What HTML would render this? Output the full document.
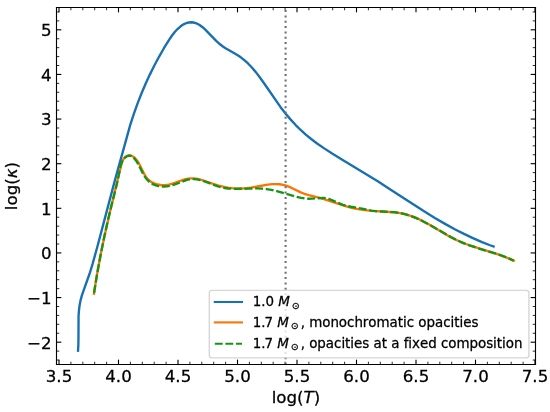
<!DOCTYPE html>
<html><head><meta charset="utf-8"><title>plot</title>
<style>html,body{margin:0;padding:0;background:#fff;}svg{display:block;}
text{stroke:#000;stroke-width:0.2px;}</style></head>
<body>
<svg width="550" height="412" viewBox="0 0 396 296.64" version="1.1">
 <defs>
  <style type="text/css">*{stroke-linejoin: round; stroke-linecap: butt}</style>
 </defs>
 <g id="figure_1">
  <g id="patch_1">
   <path d="M 0 296.64 
L 396 296.64 
L 396 0 
L 0 0 
z
" style="fill: #ffffff"/>
  </g>
  <g id="axes_1">
   <g id="patch_2">
    <path d="M 40.68 262.44 
L 385.56 262.44 
L 385.56 5.4 
L 40.68 5.4 
z
" style="fill: #ffffff"/>
   </g>
   <g id="matplotlib.axis_1">
    <g id="xtick_1">
     <g id="line2d_1">
      <g>
       <path transform="translate(42.48 262.44)" d="M 0 0 
L 0 -3.5 
" style="stroke: #000000; stroke-width: 0.8"/>
      </g>
     </g>
     <g id="line2d_2">
      <g>
       <path transform="translate(42.48 5.4)" d="M 0 0 
L 0 3.5 
" style="stroke: #000000; stroke-width: 0.8"/>
      </g>
     </g>
     <g id="text_1">
      <text style="font-size: 12px; font-family: 'DejaVu Sans', 'Bitstream Vera Sans', 'Computer Modern Sans Serif', 'Lucida Grande', 'Verdana', 'Geneva', 'Lucid', 'Arial', 'Helvetica', 'Avant Garde', sans-serif; text-anchor: middle" x="42.48" y="275.058125" transform="rotate(-0 42.48 275.058125)">3.5</text>
     </g>
    </g>
    <g id="xtick_2">
     <g id="line2d_3">
      <g>
       <path transform="translate(85.32 262.44)" d="M 0 0 
L 0 -3.5 
" style="stroke: #000000; stroke-width: 0.8"/>
      </g>
     </g>
     <g id="line2d_4">
      <g>
       <path transform="translate(85.32 5.4)" d="M 0 0 
L 0 3.5 
" style="stroke: #000000; stroke-width: 0.8"/>
      </g>
     </g>
     <g id="text_2">
      <text style="font-size: 12px; font-family: 'DejaVu Sans', 'Bitstream Vera Sans', 'Computer Modern Sans Serif', 'Lucida Grande', 'Verdana', 'Geneva', 'Lucid', 'Arial', 'Helvetica', 'Avant Garde', sans-serif; text-anchor: middle" x="85.32" y="275.058125" transform="rotate(-0 85.32 275.058125)">4.0</text>
     </g>
    </g>
    <g id="xtick_3">
     <g id="line2d_5">
      <g>
       <path transform="translate(128.16 262.44)" d="M 0 0 
L 0 -3.5 
" style="stroke: #000000; stroke-width: 0.8"/>
      </g>
     </g>
     <g id="line2d_6">
      <g>
       <path transform="translate(128.16 5.4)" d="M 0 0 
L 0 3.5 
" style="stroke: #000000; stroke-width: 0.8"/>
      </g>
     </g>
     <g id="text_3">
      <text style="font-size: 12px; font-family: 'DejaVu Sans', 'Bitstream Vera Sans', 'Computer Modern Sans Serif', 'Lucida Grande', 'Verdana', 'Geneva', 'Lucid', 'Arial', 'Helvetica', 'Avant Garde', sans-serif; text-anchor: middle" x="128.16" y="275.058125" transform="rotate(-0 128.16 275.058125)">4.5</text>
     </g>
    </g>
    <g id="xtick_4">
     <g id="line2d_7">
      <g>
       <path transform="translate(171 262.44)" d="M 0 0 
L 0 -3.5 
" style="stroke: #000000; stroke-width: 0.8"/>
      </g>
     </g>
     <g id="line2d_8">
      <g>
       <path transform="translate(171 5.4)" d="M 0 0 
L 0 3.5 
" style="stroke: #000000; stroke-width: 0.8"/>
      </g>
     </g>
     <g id="text_4">
      <text style="font-size: 12px; font-family: 'DejaVu Sans', 'Bitstream Vera Sans', 'Computer Modern Sans Serif', 'Lucida Grande', 'Verdana', 'Geneva', 'Lucid', 'Arial', 'Helvetica', 'Avant Garde', sans-serif; text-anchor: middle" x="171" y="275.058125" transform="rotate(-0 171 275.058125)">5.0</text>
     </g>
    </g>
    <g id="xtick_5">
     <g id="line2d_9">
      <g>
       <path transform="translate(213.84 262.44)" d="M 0 0 
L 0 -3.5 
" style="stroke: #000000; stroke-width: 0.8"/>
      </g>
     </g>
     <g id="line2d_10">
      <g>
       <path transform="translate(213.84 5.4)" d="M 0 0 
L 0 3.5 
" style="stroke: #000000; stroke-width: 0.8"/>
      </g>
     </g>
     <g id="text_5">
      <text style="font-size: 12px; font-family: 'DejaVu Sans', 'Bitstream Vera Sans', 'Computer Modern Sans Serif', 'Lucida Grande', 'Verdana', 'Geneva', 'Lucid', 'Arial', 'Helvetica', 'Avant Garde', sans-serif; text-anchor: middle" x="213.84" y="275.058125" transform="rotate(-0 213.84 275.058125)">5.5</text>
     </g>
    </g>
    <g id="xtick_6">
     <g id="line2d_11">
      <g>
       <path transform="translate(256.68 262.44)" d="M 0 0 
L 0 -3.5 
" style="stroke: #000000; stroke-width: 0.8"/>
      </g>
     </g>
     <g id="line2d_12">
      <g>
       <path transform="translate(256.68 5.4)" d="M 0 0 
L 0 3.5 
" style="stroke: #000000; stroke-width: 0.8"/>
      </g>
     </g>
     <g id="text_6">
      <text style="font-size: 12px; font-family: 'DejaVu Sans', 'Bitstream Vera Sans', 'Computer Modern Sans Serif', 'Lucida Grande', 'Verdana', 'Geneva', 'Lucid', 'Arial', 'Helvetica', 'Avant Garde', sans-serif; text-anchor: middle" x="256.68" y="275.058125" transform="rotate(-0 256.68 275.058125)">6.0</text>
     </g>
    </g>
    <g id="xtick_7">
     <g id="line2d_13">
      <g>
       <path transform="translate(299.52 262.44)" d="M 0 0 
L 0 -3.5 
" style="stroke: #000000; stroke-width: 0.8"/>
      </g>
     </g>
     <g id="line2d_14">
      <g>
       <path transform="translate(299.52 5.4)" d="M 0 0 
L 0 3.5 
" style="stroke: #000000; stroke-width: 0.8"/>
      </g>
     </g>
     <g id="text_7">
      <text style="font-size: 12px; font-family: 'DejaVu Sans', 'Bitstream Vera Sans', 'Computer Modern Sans Serif', 'Lucida Grande', 'Verdana', 'Geneva', 'Lucid', 'Arial', 'Helvetica', 'Avant Garde', sans-serif; text-anchor: middle" x="299.52" y="275.058125" transform="rotate(-0 299.52 275.058125)">6.5</text>
     </g>
    </g>
    <g id="xtick_8">
     <g id="line2d_15">
      <g>
       <path transform="translate(342.36 262.44)" d="M 0 0 
L 0 -3.5 
" style="stroke: #000000; stroke-width: 0.8"/>
      </g>
     </g>
     <g id="line2d_16">
      <g>
       <path transform="translate(342.36 5.4)" d="M 0 0 
L 0 3.5 
" style="stroke: #000000; stroke-width: 0.8"/>
      </g>
     </g>
     <g id="text_8">
      <text style="font-size: 12px; font-family: 'DejaVu Sans', 'Bitstream Vera Sans', 'Computer Modern Sans Serif', 'Lucida Grande', 'Verdana', 'Geneva', 'Lucid', 'Arial', 'Helvetica', 'Avant Garde', sans-serif; text-anchor: middle" x="342.36" y="275.058125" transform="rotate(-0 342.36 275.058125)">7.0</text>
     </g>
    </g>
    <g id="xtick_9">
     <g id="line2d_17">
      <g>
       <path transform="translate(385.2 262.44)" d="M 0 0 
L 0 -3.5 
" style="stroke: #000000; stroke-width: 0.8"/>
      </g>
     </g>
     <g id="line2d_18">
      <g>
       <path transform="translate(385.2 5.4)" d="M 0 0 
L 0 3.5 
" style="stroke: #000000; stroke-width: 0.8"/>
      </g>
     </g>
     <g id="text_9">
      <text style="font-size: 12px; font-family: 'DejaVu Sans', 'Bitstream Vera Sans', 'Computer Modern Sans Serif', 'Lucida Grande', 'Verdana', 'Geneva', 'Lucid', 'Arial', 'Helvetica', 'Avant Garde', sans-serif; text-anchor: middle" x="385.2" y="275.058125" transform="rotate(-0 385.2 275.058125)">7.5</text>
     </g>
    </g>
    <g id="xtick_10">
     <g id="line2d_19">
      <g>
       <path transform="translate(51.048 262.44)" d="M 0 0 
L 0 -2 
" style="stroke: #000000; stroke-width: 0.6"/>
      </g>
     </g>
     <g id="line2d_20">
      <g>
       <path transform="translate(51.048 5.4)" d="M 0 0 
L 0 2 
" style="stroke: #000000; stroke-width: 0.6"/>
      </g>
     </g>
    </g>
    <g id="xtick_11">
     <g id="line2d_21">
      <g>
       <path transform="translate(59.616 262.44)" d="M 0 0 
L 0 -2 
" style="stroke: #000000; stroke-width: 0.6"/>
      </g>
     </g>
     <g id="line2d_22">
      <g>
       <path transform="translate(59.616 5.4)" d="M 0 0 
L 0 2 
" style="stroke: #000000; stroke-width: 0.6"/>
      </g>
     </g>
    </g>
    <g id="xtick_12">
     <g id="line2d_23">
      <g>
       <path transform="translate(68.184 262.44)" d="M 0 0 
L 0 -2 
" style="stroke: #000000; stroke-width: 0.6"/>
      </g>
     </g>
     <g id="line2d_24">
      <g>
       <path transform="translate(68.184 5.4)" d="M 0 0 
L 0 2 
" style="stroke: #000000; stroke-width: 0.6"/>
      </g>
     </g>
    </g>
    <g id="xtick_13">
     <g id="line2d_25">
      <g>
       <path transform="translate(76.752 262.44)" d="M 0 0 
L 0 -2 
" style="stroke: #000000; stroke-width: 0.6"/>
      </g>
     </g>
     <g id="line2d_26">
      <g>
       <path transform="translate(76.752 5.4)" d="M 0 0 
L 0 2 
" style="stroke: #000000; stroke-width: 0.6"/>
      </g>
     </g>
    </g>
    <g id="xtick_14">
     <g id="line2d_27">
      <g>
       <path transform="translate(93.888 262.44)" d="M 0 0 
L 0 -2 
" style="stroke: #000000; stroke-width: 0.6"/>
      </g>
     </g>
     <g id="line2d_28">
      <g>
       <path transform="translate(93.888 5.4)" d="M 0 0 
L 0 2 
" style="stroke: #000000; stroke-width: 0.6"/>
      </g>
     </g>
    </g>
    <g id="xtick_15">
     <g id="line2d_29">
      <g>
       <path transform="translate(102.456 262.44)" d="M 0 0 
L 0 -2 
" style="stroke: #000000; stroke-width: 0.6"/>
      </g>
     </g>
     <g id="line2d_30">
      <g>
       <path transform="translate(102.456 5.4)" d="M 0 0 
L 0 2 
" style="stroke: #000000; stroke-width: 0.6"/>
      </g>
     </g>
    </g>
    <g id="xtick_16">
     <g id="line2d_31">
      <g>
       <path transform="translate(111.024 262.44)" d="M 0 0 
L 0 -2 
" style="stroke: #000000; stroke-width: 0.6"/>
      </g>
     </g>
     <g id="line2d_32">
      <g>
       <path transform="translate(111.024 5.4)" d="M 0 0 
L 0 2 
" style="stroke: #000000; stroke-width: 0.6"/>
      </g>
     </g>
    </g>
    <g id="xtick_17">
     <g id="line2d_33">
      <g>
       <path transform="translate(119.592 262.44)" d="M 0 0 
L 0 -2 
" style="stroke: #000000; stroke-width: 0.6"/>
      </g>
     </g>
     <g id="line2d_34">
      <g>
       <path transform="translate(119.592 5.4)" d="M 0 0 
L 0 2 
" style="stroke: #000000; stroke-width: 0.6"/>
      </g>
     </g>
    </g>
    <g id="xtick_18">
     <g id="line2d_35">
      <g>
       <path transform="translate(136.728 262.44)" d="M 0 0 
L 0 -2 
" style="stroke: #000000; stroke-width: 0.6"/>
      </g>
     </g>
     <g id="line2d_36">
      <g>
       <path transform="translate(136.728 5.4)" d="M 0 0 
L 0 2 
" style="stroke: #000000; stroke-width: 0.6"/>
      </g>
     </g>
    </g>
    <g id="xtick_19">
     <g id="line2d_37">
      <g>
       <path transform="translate(145.296 262.44)" d="M 0 0 
L 0 -2 
" style="stroke: #000000; stroke-width: 0.6"/>
      </g>
     </g>
     <g id="line2d_38">
      <g>
       <path transform="translate(145.296 5.4)" d="M 0 0 
L 0 2 
" style="stroke: #000000; stroke-width: 0.6"/>
      </g>
     </g>
    </g>
    <g id="xtick_20">
     <g id="line2d_39">
      <g>
       <path transform="translate(153.864 262.44)" d="M 0 0 
L 0 -2 
" style="stroke: #000000; stroke-width: 0.6"/>
      </g>
     </g>
     <g id="line2d_40">
      <g>
       <path transform="translate(153.864 5.4)" d="M 0 0 
L 0 2 
" style="stroke: #000000; stroke-width: 0.6"/>
      </g>
     </g>
    </g>
    <g id="xtick_21">
     <g id="line2d_41">
      <g>
       <path transform="translate(162.432 262.44)" d="M 0 0 
L 0 -2 
" style="stroke: #000000; stroke-width: 0.6"/>
      </g>
     </g>
     <g id="line2d_42">
      <g>
       <path transform="translate(162.432 5.4)" d="M 0 0 
L 0 2 
" style="stroke: #000000; stroke-width: 0.6"/>
      </g>
     </g>
    </g>
    <g id="xtick_22">
     <g id="line2d_43">
      <g>
       <path transform="translate(179.568 262.44)" d="M 0 0 
L 0 -2 
" style="stroke: #000000; stroke-width: 0.6"/>
      </g>
     </g>
     <g id="line2d_44">
      <g>
       <path transform="translate(179.568 5.4)" d="M 0 0 
L 0 2 
" style="stroke: #000000; stroke-width: 0.6"/>
      </g>
     </g>
    </g>
    <g id="xtick_23">
     <g id="line2d_45">
      <g>
       <path transform="translate(188.136 262.44)" d="M 0 0 
L 0 -2 
" style="stroke: #000000; stroke-width: 0.6"/>
      </g>
     </g>
     <g id="line2d_46">
      <g>
       <path transform="translate(188.136 5.4)" d="M 0 0 
L 0 2 
" style="stroke: #000000; stroke-width: 0.6"/>
      </g>
     </g>
    </g>
    <g id="xtick_24">
     <g id="line2d_47">
      <g>
       <path transform="translate(196.704 262.44)" d="M 0 0 
L 0 -2 
" style="stroke: #000000; stroke-width: 0.6"/>
      </g>
     </g>
     <g id="line2d_48">
      <g>
       <path transform="translate(196.704 5.4)" d="M 0 0 
L 0 2 
" style="stroke: #000000; stroke-width: 0.6"/>
      </g>
     </g>
    </g>
    <g id="xtick_25">
     <g id="line2d_49">
      <g>
       <path transform="translate(205.272 262.44)" d="M 0 0 
L 0 -2 
" style="stroke: #000000; stroke-width: 0.6"/>
      </g>
     </g>
     <g id="line2d_50">
      <g>
       <path transform="translate(205.272 5.4)" d="M 0 0 
L 0 2 
" style="stroke: #000000; stroke-width: 0.6"/>
      </g>
     </g>
    </g>
    <g id="xtick_26">
     <g id="line2d_51">
      <g>
       <path transform="translate(222.408 262.44)" d="M 0 0 
L 0 -2 
" style="stroke: #000000; stroke-width: 0.6"/>
      </g>
     </g>
     <g id="line2d_52">
      <g>
       <path transform="translate(222.408 5.4)" d="M 0 0 
L 0 2 
" style="stroke: #000000; stroke-width: 0.6"/>
      </g>
     </g>
    </g>
    <g id="xtick_27">
     <g id="line2d_53">
      <g>
       <path transform="translate(230.976 262.44)" d="M 0 0 
L 0 -2 
" style="stroke: #000000; stroke-width: 0.6"/>
      </g>
     </g>
     <g id="line2d_54">
      <g>
       <path transform="translate(230.976 5.4)" d="M 0 0 
L 0 2 
" style="stroke: #000000; stroke-width: 0.6"/>
      </g>
     </g>
    </g>
    <g id="xtick_28">
     <g id="line2d_55">
      <g>
       <path transform="translate(239.544 262.44)" d="M 0 0 
L 0 -2 
" style="stroke: #000000; stroke-width: 0.6"/>
      </g>
     </g>
     <g id="line2d_56">
      <g>
       <path transform="translate(239.544 5.4)" d="M 0 0 
L 0 2 
" style="stroke: #000000; stroke-width: 0.6"/>
      </g>
     </g>
    </g>
    <g id="xtick_29">
     <g id="line2d_57">
      <g>
       <path transform="translate(248.112 262.44)" d="M 0 0 
L 0 -2 
" style="stroke: #000000; stroke-width: 0.6"/>
      </g>
     </g>
     <g id="line2d_58">
      <g>
       <path transform="translate(248.112 5.4)" d="M 0 0 
L 0 2 
" style="stroke: #000000; stroke-width: 0.6"/>
      </g>
     </g>
    </g>
    <g id="xtick_30">
     <g id="line2d_59">
      <g>
       <path transform="translate(265.248 262.44)" d="M 0 0 
L 0 -2 
" style="stroke: #000000; stroke-width: 0.6"/>
      </g>
     </g>
     <g id="line2d_60">
      <g>
       <path transform="translate(265.248 5.4)" d="M 0 0 
L 0 2 
" style="stroke: #000000; stroke-width: 0.6"/>
      </g>
     </g>
    </g>
    <g id="xtick_31">
     <g id="line2d_61">
      <g>
       <path transform="translate(273.816 262.44)" d="M 0 0 
L 0 -2 
" style="stroke: #000000; stroke-width: 0.6"/>
      </g>
     </g>
     <g id="line2d_62">
      <g>
       <path transform="translate(273.816 5.4)" d="M 0 0 
L 0 2 
" style="stroke: #000000; stroke-width: 0.6"/>
      </g>
     </g>
    </g>
    <g id="xtick_32">
     <g id="line2d_63">
      <g>
       <path transform="translate(282.384 262.44)" d="M 0 0 
L 0 -2 
" style="stroke: #000000; stroke-width: 0.6"/>
      </g>
     </g>
     <g id="line2d_64">
      <g>
       <path transform="translate(282.384 5.4)" d="M 0 0 
L 0 2 
" style="stroke: #000000; stroke-width: 0.6"/>
      </g>
     </g>
    </g>
    <g id="xtick_33">
     <g id="line2d_65">
      <g>
       <path transform="translate(290.952 262.44)" d="M 0 0 
L 0 -2 
" style="stroke: #000000; stroke-width: 0.6"/>
      </g>
     </g>
     <g id="line2d_66">
      <g>
       <path transform="translate(290.952 5.4)" d="M 0 0 
L 0 2 
" style="stroke: #000000; stroke-width: 0.6"/>
      </g>
     </g>
    </g>
    <g id="xtick_34">
     <g id="line2d_67">
      <g>
       <path transform="translate(308.088 262.44)" d="M 0 0 
L 0 -2 
" style="stroke: #000000; stroke-width: 0.6"/>
      </g>
     </g>
     <g id="line2d_68">
      <g>
       <path transform="translate(308.088 5.4)" d="M 0 0 
L 0 2 
" style="stroke: #000000; stroke-width: 0.6"/>
      </g>
     </g>
    </g>
    <g id="xtick_35">
     <g id="line2d_69">
      <g>
       <path transform="translate(316.656 262.44)" d="M 0 0 
L 0 -2 
" style="stroke: #000000; stroke-width: 0.6"/>
      </g>
     </g>
     <g id="line2d_70">
      <g>
       <path transform="translate(316.656 5.4)" d="M 0 0 
L 0 2 
" style="stroke: #000000; stroke-width: 0.6"/>
      </g>
     </g>
    </g>
    <g id="xtick_36">
     <g id="line2d_71">
      <g>
       <path transform="translate(325.224 262.44)" d="M 0 0 
L 0 -2 
" style="stroke: #000000; stroke-width: 0.6"/>
      </g>
     </g>
     <g id="line2d_72">
      <g>
       <path transform="translate(325.224 5.4)" d="M 0 0 
L 0 2 
" style="stroke: #000000; stroke-width: 0.6"/>
      </g>
     </g>
    </g>
    <g id="xtick_37">
     <g id="line2d_73">
      <g>
       <path transform="translate(333.792 262.44)" d="M 0 0 
L 0 -2 
" style="stroke: #000000; stroke-width: 0.6"/>
      </g>
     </g>
     <g id="line2d_74">
      <g>
       <path transform="translate(333.792 5.4)" d="M 0 0 
L 0 2 
" style="stroke: #000000; stroke-width: 0.6"/>
      </g>
     </g>
    </g>
    <g id="xtick_38">
     <g id="line2d_75">
      <g>
       <path transform="translate(350.928 262.44)" d="M 0 0 
L 0 -2 
" style="stroke: #000000; stroke-width: 0.6"/>
      </g>
     </g>
     <g id="line2d_76">
      <g>
       <path transform="translate(350.928 5.4)" d="M 0 0 
L 0 2 
" style="stroke: #000000; stroke-width: 0.6"/>
      </g>
     </g>
    </g>
    <g id="xtick_39">
     <g id="line2d_77">
      <g>
       <path transform="translate(359.496 262.44)" d="M 0 0 
L 0 -2 
" style="stroke: #000000; stroke-width: 0.6"/>
      </g>
     </g>
     <g id="line2d_78">
      <g>
       <path transform="translate(359.496 5.4)" d="M 0 0 
L 0 2 
" style="stroke: #000000; stroke-width: 0.6"/>
      </g>
     </g>
    </g>
    <g id="xtick_40">
     <g id="line2d_79">
      <g>
       <path transform="translate(368.064 262.44)" d="M 0 0 
L 0 -2 
" style="stroke: #000000; stroke-width: 0.6"/>
      </g>
     </g>
     <g id="line2d_80">
      <g>
       <path transform="translate(368.064 5.4)" d="M 0 0 
L 0 2 
" style="stroke: #000000; stroke-width: 0.6"/>
      </g>
     </g>
    </g>
    <g id="xtick_41">
     <g id="line2d_81">
      <g>
       <path transform="translate(376.632 262.44)" d="M 0 0 
L 0 -2 
" style="stroke: #000000; stroke-width: 0.6"/>
      </g>
     </g>
     <g id="line2d_82">
      <g>
       <path transform="translate(376.632 5.4)" d="M 0 0 
L 0 2 
" style="stroke: #000000; stroke-width: 0.6"/>
      </g>
     </g>
    </g>
    <g id="text_10">
     <!-- log($T$) -->
     <g transform="translate(195.6 290.67375)">
      <text><tspan x="0" y="-0.875" style="font-size: 12px; font-family: 'DejaVu Sans'">l</tspan><tspan x="3.333984" y="-0.875" style="font-size: 12px; font-family: 'DejaVu Sans'">o</tspan><tspan x="10.675781" y="-0.875" style="font-size: 12px; font-family: 'DejaVu Sans'">g</tspan><tspan x="18.292969" y="-0.875" style="font-size: 12px; font-family: 'DejaVu Sans'">(</tspan><tspan x="22.974609" y="-0.875" style="font-style: oblique; font-size: 12px; font-family: 'DejaVu Sans'">T</tspan><tspan x="30.304688" y="-0.875" style="font-size: 12px; font-family: 'DejaVu Sans'">)</tspan></text>
     </g>
    </g>
   </g>
   <g id="matplotlib.axis_2">
    <g id="ytick_1">
     <g id="line2d_83">
      <g>
       <path transform="translate(40.68 246.375)" d="M 0 0 
L 3.5 0 
" style="stroke: #000000; stroke-width: 0.8"/>
      </g>
     </g>
     <g id="line2d_84">
      <g>
       <path transform="translate(385.56 246.375)" d="M 0 0 
L -3.5 0 
" style="stroke: #000000; stroke-width: 0.8"/>
      </g>
     </g>
     <g id="text_11">
      <text style="font-size: 12px; font-family: 'DejaVu Sans', 'Bitstream Vera Sans', 'Computer Modern Sans Serif', 'Lucida Grande', 'Verdana', 'Geneva', 'Lucid', 'Arial', 'Helvetica', 'Avant Garde', sans-serif; text-anchor: end" x="37.18" y="250.934062" transform="rotate(-0 37.18 250.934062)">−2</text>
     </g>
    </g>
    <g id="ytick_2">
     <g id="line2d_85">
      <g>
       <path transform="translate(40.68 214.245)" d="M 0 0 
L 3.5 0 
" style="stroke: #000000; stroke-width: 0.8"/>
      </g>
     </g>
     <g id="line2d_86">
      <g>
       <path transform="translate(385.56 214.245)" d="M 0 0 
L -3.5 0 
" style="stroke: #000000; stroke-width: 0.8"/>
      </g>
     </g>
     <g id="text_12">
      <text style="font-size: 12px; font-family: 'DejaVu Sans', 'Bitstream Vera Sans', 'Computer Modern Sans Serif', 'Lucida Grande', 'Verdana', 'Geneva', 'Lucid', 'Arial', 'Helvetica', 'Avant Garde', sans-serif; text-anchor: end" x="37.18" y="218.804062" transform="rotate(-0 37.18 218.804062)">−1</text>
     </g>
    </g>
    <g id="ytick_3">
     <g id="line2d_87">
      <g>
       <path transform="translate(40.68 182.115)" d="M 0 0 
L 3.5 0 
" style="stroke: #000000; stroke-width: 0.8"/>
      </g>
     </g>
     <g id="line2d_88">
      <g>
       <path transform="translate(385.56 182.115)" d="M 0 0 
L -3.5 0 
" style="stroke: #000000; stroke-width: 0.8"/>
      </g>
     </g>
     <g id="text_13">
      <text style="font-size: 12px; font-family: 'DejaVu Sans', 'Bitstream Vera Sans', 'Computer Modern Sans Serif', 'Lucida Grande', 'Verdana', 'Geneva', 'Lucid', 'Arial', 'Helvetica', 'Avant Garde', sans-serif; text-anchor: end" x="37.18" y="186.674062" transform="rotate(-0 37.18 186.674062)">0</text>
     </g>
    </g>
    <g id="ytick_4">
     <g id="line2d_89">
      <g>
       <path transform="translate(40.68 149.985)" d="M 0 0 
L 3.5 0 
" style="stroke: #000000; stroke-width: 0.8"/>
      </g>
     </g>
     <g id="line2d_90">
      <g>
       <path transform="translate(385.56 149.985)" d="M 0 0 
L -3.5 0 
" style="stroke: #000000; stroke-width: 0.8"/>
      </g>
     </g>
     <g id="text_14">
      <text style="font-size: 12px; font-family: 'DejaVu Sans', 'Bitstream Vera Sans', 'Computer Modern Sans Serif', 'Lucida Grande', 'Verdana', 'Geneva', 'Lucid', 'Arial', 'Helvetica', 'Avant Garde', sans-serif; text-anchor: end" x="37.18" y="154.544063" transform="rotate(-0 37.18 154.544063)">1</text>
     </g>
    </g>
    <g id="ytick_5">
     <g id="line2d_91">
      <g>
       <path transform="translate(40.68 117.855)" d="M 0 0 
L 3.5 0 
" style="stroke: #000000; stroke-width: 0.8"/>
      </g>
     </g>
     <g id="line2d_92">
      <g>
       <path transform="translate(385.56 117.855)" d="M 0 0 
L -3.5 0 
" style="stroke: #000000; stroke-width: 0.8"/>
      </g>
     </g>
     <g id="text_15">
      <text style="font-size: 12px; font-family: 'DejaVu Sans', 'Bitstream Vera Sans', 'Computer Modern Sans Serif', 'Lucida Grande', 'Verdana', 'Geneva', 'Lucid', 'Arial', 'Helvetica', 'Avant Garde', sans-serif; text-anchor: end" x="37.18" y="122.414063" transform="rotate(-0 37.18 122.414063)">2</text>
     </g>
    </g>
    <g id="ytick_6">
     <g id="line2d_93">
      <g>
       <path transform="translate(40.68 85.725)" d="M 0 0 
L 3.5 0 
" style="stroke: #000000; stroke-width: 0.8"/>
      </g>
     </g>
     <g id="line2d_94">
      <g>
       <path transform="translate(385.56 85.725)" d="M 0 0 
L -3.5 0 
" style="stroke: #000000; stroke-width: 0.8"/>
      </g>
     </g>
     <g id="text_16">
      <text style="font-size: 12px; font-family: 'DejaVu Sans', 'Bitstream Vera Sans', 'Computer Modern Sans Serif', 'Lucida Grande', 'Verdana', 'Geneva', 'Lucid', 'Arial', 'Helvetica', 'Avant Garde', sans-serif; text-anchor: end" x="37.18" y="90.284063" transform="rotate(-0 37.18 90.284063)">3</text>
     </g>
    </g>
    <g id="ytick_7">
     <g id="line2d_95">
      <g>
       <path transform="translate(40.68 53.595)" d="M 0 0 
L 3.5 0 
" style="stroke: #000000; stroke-width: 0.8"/>
      </g>
     </g>
     <g id="line2d_96">
      <g>
       <path transform="translate(385.56 53.595)" d="M 0 0 
L -3.5 0 
" style="stroke: #000000; stroke-width: 0.8"/>
      </g>
     </g>
     <g id="text_17">
      <text style="font-size: 12px; font-family: 'DejaVu Sans', 'Bitstream Vera Sans', 'Computer Modern Sans Serif', 'Lucida Grande', 'Verdana', 'Geneva', 'Lucid', 'Arial', 'Helvetica', 'Avant Garde', sans-serif; text-anchor: end" x="37.18" y="58.154063" transform="rotate(-0 37.18 58.154063)">4</text>
     </g>
    </g>
    <g id="ytick_8">
     <g id="line2d_97">
      <g>
       <path transform="translate(40.68 21.465)" d="M 0 0 
L 3.5 0 
" style="stroke: #000000; stroke-width: 0.8"/>
      </g>
     </g>
     <g id="line2d_98">
      <g>
       <path transform="translate(385.56 21.465)" d="M 0 0 
L -3.5 0 
" style="stroke: #000000; stroke-width: 0.8"/>
      </g>
     </g>
     <g id="text_18">
      <text style="font-size: 12px; font-family: 'DejaVu Sans', 'Bitstream Vera Sans', 'Computer Modern Sans Serif', 'Lucida Grande', 'Verdana', 'Geneva', 'Lucid', 'Arial', 'Helvetica', 'Avant Garde', sans-serif; text-anchor: end" x="37.18" y="26.024063" transform="rotate(-0 37.18 26.024063)">5</text>
     </g>
    </g>
    <g id="ytick_9">
     <g id="line2d_99">
      <g>
       <path transform="translate(40.68 259.227)" d="M 0 0 
L 2 0 
" style="stroke: #000000; stroke-width: 0.6"/>
      </g>
     </g>
     <g id="line2d_100">
      <g>
       <path transform="translate(385.56 259.227)" d="M 0 0 
L -2 0 
" style="stroke: #000000; stroke-width: 0.6"/>
      </g>
     </g>
    </g>
    <g id="ytick_10">
     <g id="line2d_101">
      <g>
       <path transform="translate(40.68 252.801)" d="M 0 0 
L 2 0 
" style="stroke: #000000; stroke-width: 0.6"/>
      </g>
     </g>
     <g id="line2d_102">
      <g>
       <path transform="translate(385.56 252.801)" d="M 0 0 
L -2 0 
" style="stroke: #000000; stroke-width: 0.6"/>
      </g>
     </g>
    </g>
    <g id="ytick_11">
     <g id="line2d_103">
      <g>
       <path transform="translate(40.68 239.949)" d="M 0 0 
L 2 0 
" style="stroke: #000000; stroke-width: 0.6"/>
      </g>
     </g>
     <g id="line2d_104">
      <g>
       <path transform="translate(385.56 239.949)" d="M 0 0 
L -2 0 
" style="stroke: #000000; stroke-width: 0.6"/>
      </g>
     </g>
    </g>
    <g id="ytick_12">
     <g id="line2d_105">
      <g>
       <path transform="translate(40.68 233.523)" d="M 0 0 
L 2 0 
" style="stroke: #000000; stroke-width: 0.6"/>
      </g>
     </g>
     <g id="line2d_106">
      <g>
       <path transform="translate(385.56 233.523)" d="M 0 0 
L -2 0 
" style="stroke: #000000; stroke-width: 0.6"/>
      </g>
     </g>
    </g>
    <g id="ytick_13">
     <g id="line2d_107">
      <g>
       <path transform="translate(40.68 227.097)" d="M 0 0 
L 2 0 
" style="stroke: #000000; stroke-width: 0.6"/>
      </g>
     </g>
     <g id="line2d_108">
      <g>
       <path transform="translate(385.56 227.097)" d="M 0 0 
L -2 0 
" style="stroke: #000000; stroke-width: 0.6"/>
      </g>
     </g>
    </g>
    <g id="ytick_14">
     <g id="line2d_109">
      <g>
       <path transform="translate(40.68 220.671)" d="M 0 0 
L 2 0 
" style="stroke: #000000; stroke-width: 0.6"/>
      </g>
     </g>
     <g id="line2d_110">
      <g>
       <path transform="translate(385.56 220.671)" d="M 0 0 
L -2 0 
" style="stroke: #000000; stroke-width: 0.6"/>
      </g>
     </g>
    </g>
    <g id="ytick_15">
     <g id="line2d_111">
      <g>
       <path transform="translate(40.68 207.819)" d="M 0 0 
L 2 0 
" style="stroke: #000000; stroke-width: 0.6"/>
      </g>
     </g>
     <g id="line2d_112">
      <g>
       <path transform="translate(385.56 207.819)" d="M 0 0 
L -2 0 
" style="stroke: #000000; stroke-width: 0.6"/>
      </g>
     </g>
    </g>
    <g id="ytick_16">
     <g id="line2d_113">
      <g>
       <path transform="translate(40.68 201.393)" d="M 0 0 
L 2 0 
" style="stroke: #000000; stroke-width: 0.6"/>
      </g>
     </g>
     <g id="line2d_114">
      <g>
       <path transform="translate(385.56 201.393)" d="M 0 0 
L -2 0 
" style="stroke: #000000; stroke-width: 0.6"/>
      </g>
     </g>
    </g>
    <g id="ytick_17">
     <g id="line2d_115">
      <g>
       <path transform="translate(40.68 194.967)" d="M 0 0 
L 2 0 
" style="stroke: #000000; stroke-width: 0.6"/>
      </g>
     </g>
     <g id="line2d_116">
      <g>
       <path transform="translate(385.56 194.967)" d="M 0 0 
L -2 0 
" style="stroke: #000000; stroke-width: 0.6"/>
      </g>
     </g>
    </g>
    <g id="ytick_18">
     <g id="line2d_117">
      <g>
       <path transform="translate(40.68 188.541)" d="M 0 0 
L 2 0 
" style="stroke: #000000; stroke-width: 0.6"/>
      </g>
     </g>
     <g id="line2d_118">
      <g>
       <path transform="translate(385.56 188.541)" d="M 0 0 
L -2 0 
" style="stroke: #000000; stroke-width: 0.6"/>
      </g>
     </g>
    </g>
    <g id="ytick_19">
     <g id="line2d_119">
      <g>
       <path transform="translate(40.68 175.689)" d="M 0 0 
L 2 0 
" style="stroke: #000000; stroke-width: 0.6"/>
      </g>
     </g>
     <g id="line2d_120">
      <g>
       <path transform="translate(385.56 175.689)" d="M 0 0 
L -2 0 
" style="stroke: #000000; stroke-width: 0.6"/>
      </g>
     </g>
    </g>
    <g id="ytick_20">
     <g id="line2d_121">
      <g>
       <path transform="translate(40.68 169.263)" d="M 0 0 
L 2 0 
" style="stroke: #000000; stroke-width: 0.6"/>
      </g>
     </g>
     <g id="line2d_122">
      <g>
       <path transform="translate(385.56 169.263)" d="M 0 0 
L -2 0 
" style="stroke: #000000; stroke-width: 0.6"/>
      </g>
     </g>
    </g>
    <g id="ytick_21">
     <g id="line2d_123">
      <g>
       <path transform="translate(40.68 162.837)" d="M 0 0 
L 2 0 
" style="stroke: #000000; stroke-width: 0.6"/>
      </g>
     </g>
     <g id="line2d_124">
      <g>
       <path transform="translate(385.56 162.837)" d="M 0 0 
L -2 0 
" style="stroke: #000000; stroke-width: 0.6"/>
      </g>
     </g>
    </g>
    <g id="ytick_22">
     <g id="line2d_125">
      <g>
       <path transform="translate(40.68 156.411)" d="M 0 0 
L 2 0 
" style="stroke: #000000; stroke-width: 0.6"/>
      </g>
     </g>
     <g id="line2d_126">
      <g>
       <path transform="translate(385.56 156.411)" d="M 0 0 
L -2 0 
" style="stroke: #000000; stroke-width: 0.6"/>
      </g>
     </g>
    </g>
    <g id="ytick_23">
     <g id="line2d_127">
      <g>
       <path transform="translate(40.68 143.559)" d="M 0 0 
L 2 0 
" style="stroke: #000000; stroke-width: 0.6"/>
      </g>
     </g>
     <g id="line2d_128">
      <g>
       <path transform="translate(385.56 143.559)" d="M 0 0 
L -2 0 
" style="stroke: #000000; stroke-width: 0.6"/>
      </g>
     </g>
    </g>
    <g id="ytick_24">
     <g id="line2d_129">
      <g>
       <path transform="translate(40.68 137.133)" d="M 0 0 
L 2 0 
" style="stroke: #000000; stroke-width: 0.6"/>
      </g>
     </g>
     <g id="line2d_130">
      <g>
       <path transform="translate(385.56 137.133)" d="M 0 0 
L -2 0 
" style="stroke: #000000; stroke-width: 0.6"/>
      </g>
     </g>
    </g>
    <g id="ytick_25">
     <g id="line2d_131">
      <g>
       <path transform="translate(40.68 130.707)" d="M 0 0 
L 2 0 
" style="stroke: #000000; stroke-width: 0.6"/>
      </g>
     </g>
     <g id="line2d_132">
      <g>
       <path transform="translate(385.56 130.707)" d="M 0 0 
L -2 0 
" style="stroke: #000000; stroke-width: 0.6"/>
      </g>
     </g>
    </g>
    <g id="ytick_26">
     <g id="line2d_133">
      <g>
       <path transform="translate(40.68 124.281)" d="M 0 0 
L 2 0 
" style="stroke: #000000; stroke-width: 0.6"/>
      </g>
     </g>
     <g id="line2d_134">
      <g>
       <path transform="translate(385.56 124.281)" d="M 0 0 
L -2 0 
" style="stroke: #000000; stroke-width: 0.6"/>
      </g>
     </g>
    </g>
    <g id="ytick_27">
     <g id="line2d_135">
      <g>
       <path transform="translate(40.68 111.429)" d="M 0 0 
L 2 0 
" style="stroke: #000000; stroke-width: 0.6"/>
      </g>
     </g>
     <g id="line2d_136">
      <g>
       <path transform="translate(385.56 111.429)" d="M 0 0 
L -2 0 
" style="stroke: #000000; stroke-width: 0.6"/>
      </g>
     </g>
    </g>
    <g id="ytick_28">
     <g id="line2d_137">
      <g>
       <path transform="translate(40.68 105.003)" d="M 0 0 
L 2 0 
" style="stroke: #000000; stroke-width: 0.6"/>
      </g>
     </g>
     <g id="line2d_138">
      <g>
       <path transform="translate(385.56 105.003)" d="M 0 0 
L -2 0 
" style="stroke: #000000; stroke-width: 0.6"/>
      </g>
     </g>
    </g>
    <g id="ytick_29">
     <g id="line2d_139">
      <g>
       <path transform="translate(40.68 98.577)" d="M 0 0 
L 2 0 
" style="stroke: #000000; stroke-width: 0.6"/>
      </g>
     </g>
     <g id="line2d_140">
      <g>
       <path transform="translate(385.56 98.577)" d="M 0 0 
L -2 0 
" style="stroke: #000000; stroke-width: 0.6"/>
      </g>
     </g>
    </g>
    <g id="ytick_30">
     <g id="line2d_141">
      <g>
       <path transform="translate(40.68 92.151)" d="M 0 0 
L 2 0 
" style="stroke: #000000; stroke-width: 0.6"/>
      </g>
     </g>
     <g id="line2d_142">
      <g>
       <path transform="translate(385.56 92.151)" d="M 0 0 
L -2 0 
" style="stroke: #000000; stroke-width: 0.6"/>
      </g>
     </g>
    </g>
    <g id="ytick_31">
     <g id="line2d_143">
      <g>
       <path transform="translate(40.68 79.299)" d="M 0 0 
L 2 0 
" style="stroke: #000000; stroke-width: 0.6"/>
      </g>
     </g>
     <g id="line2d_144">
      <g>
       <path transform="translate(385.56 79.299)" d="M 0 0 
L -2 0 
" style="stroke: #000000; stroke-width: 0.6"/>
      </g>
     </g>
    </g>
    <g id="ytick_32">
     <g id="line2d_145">
      <g>
       <path transform="translate(40.68 72.873)" d="M 0 0 
L 2 0 
" style="stroke: #000000; stroke-width: 0.6"/>
      </g>
     </g>
     <g id="line2d_146">
      <g>
       <path transform="translate(385.56 72.873)" d="M 0 0 
L -2 0 
" style="stroke: #000000; stroke-width: 0.6"/>
      </g>
     </g>
    </g>
    <g id="ytick_33">
     <g id="line2d_147">
      <g>
       <path transform="translate(40.68 66.447)" d="M 0 0 
L 2 0 
" style="stroke: #000000; stroke-width: 0.6"/>
      </g>
     </g>
     <g id="line2d_148">
      <g>
       <path transform="translate(385.56 66.447)" d="M 0 0 
L -2 0 
" style="stroke: #000000; stroke-width: 0.6"/>
      </g>
     </g>
    </g>
    <g id="ytick_34">
     <g id="line2d_149">
      <g>
       <path transform="translate(40.68 60.021)" d="M 0 0 
L 2 0 
" style="stroke: #000000; stroke-width: 0.6"/>
      </g>
     </g>
     <g id="line2d_150">
      <g>
       <path transform="translate(385.56 60.021)" d="M 0 0 
L -2 0 
" style="stroke: #000000; stroke-width: 0.6"/>
      </g>
     </g>
    </g>
    <g id="ytick_35">
     <g id="line2d_151">
      <g>
       <path transform="translate(40.68 47.169)" d="M 0 0 
L 2 0 
" style="stroke: #000000; stroke-width: 0.6"/>
      </g>
     </g>
     <g id="line2d_152">
      <g>
       <path transform="translate(385.56 47.169)" d="M 0 0 
L -2 0 
" style="stroke: #000000; stroke-width: 0.6"/>
      </g>
     </g>
    </g>
    <g id="ytick_36">
     <g id="line2d_153">
      <g>
       <path transform="translate(40.68 40.743)" d="M 0 0 
L 2 0 
" style="stroke: #000000; stroke-width: 0.6"/>
      </g>
     </g>
     <g id="line2d_154">
      <g>
       <path transform="translate(385.56 40.743)" d="M 0 0 
L -2 0 
" style="stroke: #000000; stroke-width: 0.6"/>
      </g>
     </g>
    </g>
    <g id="ytick_37">
     <g id="line2d_155">
      <g>
       <path transform="translate(40.68 34.317)" d="M 0 0 
L 2 0 
" style="stroke: #000000; stroke-width: 0.6"/>
      </g>
     </g>
     <g id="line2d_156">
      <g>
       <path transform="translate(385.56 34.317)" d="M 0 0 
L -2 0 
" style="stroke: #000000; stroke-width: 0.6"/>
      </g>
     </g>
    </g>
    <g id="ytick_38">
     <g id="line2d_157">
      <g>
       <path transform="translate(40.68 27.891)" d="M 0 0 
L 2 0 
" style="stroke: #000000; stroke-width: 0.6"/>
      </g>
     </g>
     <g id="line2d_158">
      <g>
       <path transform="translate(385.56 27.891)" d="M 0 0 
L -2 0 
" style="stroke: #000000; stroke-width: 0.6"/>
      </g>
     </g>
    </g>
    <g id="ytick_39">
     <g id="line2d_159">
      <g>
       <path transform="translate(40.68 15.039)" d="M 0 0 
L 2 0 
" style="stroke: #000000; stroke-width: 0.6"/>
      </g>
     </g>
     <g id="line2d_160">
      <g>
       <path transform="translate(385.56 15.039)" d="M 0 0 
L -2 0 
" style="stroke: #000000; stroke-width: 0.6"/>
      </g>
     </g>
    </g>
    <g id="ytick_40">
     <g id="line2d_161">
      <g>
       <path transform="translate(40.68 8.613)" d="M 0 0 
L 2 0 
" style="stroke: #000000; stroke-width: 0.6"/>
      </g>
     </g>
     <g id="line2d_162">
      <g>
       <path transform="translate(385.56 8.613)" d="M 0 0 
L -2 0 
" style="stroke: #000000; stroke-width: 0.6"/>
      </g>
     </g>
    </g>
    <g id="text_19">
     <!-- log($\kappa$) -->
     <g transform="translate(12.969375 151.32) rotate(-90)">
      <text><tspan x="0" y="-0.875" style="font-size: 12px; font-family: 'DejaVu Sans'">l</tspan><tspan x="3.333984" y="-0.875" style="font-size: 12px; font-family: 'DejaVu Sans'">o</tspan><tspan x="10.675781" y="-0.875" style="font-size: 12px; font-family: 'DejaVu Sans'">g</tspan><tspan x="18.292969" y="-0.875" style="font-size: 12px; font-family: 'DejaVu Sans'">(</tspan><tspan x="22.974609" y="-0.875" style="font-style: oblique; font-size: 12px; font-family: 'DejaVu Sans'">κ</tspan><tspan x="30.046875" y="-0.875" style="font-size: 12px; font-family: 'DejaVu Sans'">)</tspan></text>
     </g>
    </g>
   </g>
   <g id="line2d_163">
    <path d="M 56.18072 252.549347 
L 56.428741 248.177827 
L 56.500274 242.86094 
L 56.558661 227.66061 
L 56.871466 223.231946 
L 57.320641 219.727149 
L 57.992054 216.267086 
L 58.916169 212.859225 
L 60.341878 208.655181 
L 64.556216 196.920245 
L 66.614817 190.130977 
L 69.951426 178.169904 
L 74.495945 160.99675 
L 82.429238 130.926312 
L 93.779522 89.88541 
L 96.244612 82.291726 
L 98.933645 74.772533 
L 101.847944 67.336044 
L 104.988828 59.99047 
L 107.972015 53.544034 
L 111.136205 47.18169 
L 114.482327 40.909205 
L 118.011308 34.732347 
L 121.733761 28.662678 
L 123.745969 25.716595 
L 125.969825 22.896962 
L 127.828907 20.899632 
L 129.867092 19.085017 
L 131.317869 18.044199 
L 132.836477 17.186788 
L 134.417297 16.553343 
L 136.042282 16.169693 
L 137.682561 16.048843 
L 139.309148 16.202539 
L 140.897933 16.626741 
L 142.439106 17.295158 
L 143.934563 18.171443 
L 146.097518 19.794997 
L 148.171722 21.67893 
L 151.454502 25.059576 
L 155.836672 29.561756 
L 158.415275 31.873951 
L 160.471469 33.44909 
L 162.667884 34.880478 
L 166.526895 37.08468 
L 171.168732 39.781342 
L 173.370471 41.287277 
L 176.142401 43.491036 
L 178.742583 45.882035 
L 181.188055 48.420792 
L 184.058373 51.759035 
L 186.763292 55.244828 
L 190.357947 60.301204 
L 202.013278 77.168476 
L 205.852384 82.07477 
L 209.298154 86.136846 
L 212.900356 90.04432 
L 216.671548 93.776056 
L 219.952336 96.736369 
L 224.054901 100.103747 
L 228.311171 103.294012 
L 233.428485 106.832217 
L 239.414746 110.691955 
L 248.515406 116.261329 
L 271.988211 130.513851 
L 282.424811 137.260986 
L 304.775122 151.809213 
L 313.098328 156.919374 
L 320.767064 161.37708 
L 327.769958 165.200601 
L 334.087864 168.424086 
L 340.504523 171.460585 
L 347.030607 174.28889 
L 352.839085 176.576201 
L 355.358354 177.499191 
L 355.358354 177.499191 
" clip-path="url(#p5fa38661e6)" style="fill: none; stroke: #1870b2; stroke-width: 1.7; stroke-linecap: square"/>
   </g>
   <g id="line2d_164">
    <path d="M 67.673172 211.476893 
L 69.06194 202.200008 
L 70.775328 192.233538 
L 72.951583 180.930688 
L 75.612404 168.325143 
L 79.04799 153.163647 
L 84.91215 128.461175 
L 87.630726 117.492641 
L 88.360284 115.549594 
L 88.980065 114.408785 
L 89.739929 113.440039 
L 90.66835 112.684841 
L 91.764768 112.180288 
L 92.961433 111.953332 
L 94.181118 112.029492 
L 95.34817 112.432322 
L 96.42536 113.137432 
L 97.41515 114.070902 
L 98.745338 115.732595 
L 99.90531 117.514629 
L 101.2385 119.993687 
L 104.292395 126.164766 
L 105.381111 127.806909 
L 106.658232 129.264533 
L 108.153314 130.502679 
L 109.831083 131.516167 
L 111.648293 132.303482 
L 113.561697 132.863106 
L 115.529523 133.194175 
L 117.527983 133.303767 
L 119.545304 133.204267 
L 121.569933 132.908157 
L 123.590319 132.427932 
L 126.263938 131.551823 
L 133.505219 128.98799 
L 135.456806 128.577277 
L 137.400532 128.401119 
L 139.337902 128.441326 
L 141.270484 128.667005 
L 143.842523 129.203024 
L 147.055188 130.147931 
L 153.50016 132.410516 
L 157.398747 133.629713 
L 160.670873 134.439409 
L 163.962561 135.054918 
L 167.272149 135.47223 
L 170.597973 135.687335 
L 173.93837 135.696221 
L 177.291676 135.494879 
L 180.655998 135.082957 
L 185.373969 134.262626 
L 192.758972 132.970464 
L 196.084771 132.614016 
L 198.723888 132.523597 
L 201.339506 132.658764 
L 203.927591 133.067963 
L 205.848163 133.583821 
L 208.382112 134.551276 
L 211.52364 136.047167 
L 216.552495 138.508984 
L 219.09583 139.506017 
L 222.307068 140.476449 
L 228.124958 141.892633 
L 231.99088 142.937618 
L 237.119195 144.573596 
L 249.975404 148.811331 
L 253.888931 149.824074 
L 257.845776 150.606309 
L 262.509573 151.26539 
L 267.884986 151.779472 
L 278.023444 152.446668 
L 284.088509 152.946006 
L 288.08668 153.479325 
L 291.372178 154.120989 
L 294.60209 154.995663 
L 297.76979 156.116821 
L 300.877738 157.442189 
L 304.532938 159.236131 
L 309.29376 161.848014 
L 316.874714 166.327726 
L 323.29703 170.039418 
L 327.460655 172.222124 
L 331.111123 173.915841 
L 335.470483 175.677487 
L 340.553388 177.476443 
L 347.646582 179.729901 
L 359.260364 183.41225 
L 364.323715 185.263815 
L 368.659029 187.090156 
L 369.877368 187.655948 
L 369.877368 187.655948 
" clip-path="url(#p5fa38661e6)" style="fill: none; stroke: #ff7305; stroke-width: 1.7; stroke-linecap: square"/>
   </g>
   <g id="line2d_165">
    <path d="M 67.597327 211.455322 
L 69.884117 197.570892 
L 72.304621 184.258814 
L 74.828212 171.616984 
L 77.424577 159.71718 
L 80.0639 148.608322 
L 83.373561 135.733753 
L 84.924259 129.145542 
L 85.842653 124.310093 
L 86.63517 120.086279 
L 87.197214 118.07437 
L 87.966349 116.204727 
L 88.629921 115.065333 
L 89.436046 114.033563 
L 90.367781 113.15554 
L 91.385976 112.494348 
L 92.451135 112.113335 
L 93.523881 112.075259 
L 94.57396 112.397795 
L 95.586526 113.022437 
L 96.548222 113.883335 
L 97.866165 115.473608 
L 99.005396 117.242581 
L 100.315837 119.732692 
L 103.150954 125.390973 
L 104.633993 127.705874 
L 105.879353 129.281928 
L 107.254503 130.678918 
L 108.773448 131.859388 
L 110.437429 132.801339 
L 112.225257 133.50994 
L 114.113467 133.993118 
L 116.078596 134.258799 
L 118.097178 134.314911 
L 120.145748 134.16938 
L 122.200841 133.830132 
L 124.239366 133.305868 
L 126.914619 132.381596 
L 134.080002 129.67576 
L 136.002475 129.195526 
L 137.918193 128.944304 
L 139.829742 128.933959 
L 141.738808 129.132394 
L 144.283227 129.663638 
L 146.830098 130.426599 
L 150.663587 131.831197 
L 156.469692 133.991181 
L 159.0818 134.766601 
L 161.717737 135.333373 
L 164.375207 135.70503 
L 167.72181 135.94621 
L 171.764715 135.994271 
L 178.536602 135.782126 
L 184.627002 135.651464 
L 188.663779 135.792184 
L 192.003119 136.143586 
L 195.31705 136.728711 
L 199.265673 137.665547 
L 205.146742 139.344107 
L 212.949325 141.571394 
L 216.852157 142.453292 
L 219.468533 142.86271 
L 222.109827 143.064242 
L 224.787124 143.004572 
L 232.860005 142.465916 
L 234.81428 142.726483 
L 236.727783 143.250995 
L 239.237979 144.240363 
L 246.791562 147.537654 
L 249.405987 148.249906 
L 252.72816 148.876327 
L 260.678517 150.192427 
L 267.172364 151.633707 
L 270.527782 152.03299 
L 275.31901 152.315817 
L 283.553183 152.750942 
L 286.904951 153.17394 
L 290.178355 153.834674 
L 293.379967 154.714019 
L 296.518453 155.786603 
L 300.213515 157.293058 
L 304.445284 159.29762 
L 309.206359 161.829053 
L 316.272382 165.888004 
L 324.544445 170.601848 
L 329.354205 173.082599 
L 333.647357 175.023282 
L 338.033015 176.709856 
L 343.132025 178.404433 
L 352.810472 181.301514 
L 359.243056 183.340245 
L 363.687979 184.961737 
L 367.43712 186.546499 
L 369.896711 187.728549 
L 369.896711 187.728549 
" clip-path="url(#p5fa38661e6)" style="fill: none; stroke-dasharray: 5.7414,1.9273; stroke-dashoffset: 7.1611; stroke: #149614; stroke-width: 1.7"/>
   </g>
   <g id="line2d_166">
    <path d="M 205.632 262.44 
L 205.632 5.4 
" clip-path="url(#p5fa38661e6)" style="fill: none; stroke-dasharray: 1.44,2.405; stroke-dashoffset: 0; stroke: #707070; stroke-width: 1.5"/>
   </g>
   <g id="patch_3">
    <path d="M 40.68 262.44 
L 40.68 5.4 
" style="fill: none; stroke: #000000; stroke-width: 0.8; stroke-linejoin: miter; stroke-linecap: square"/>
   </g>
   <g id="patch_4">
    <path d="M 385.56 262.44 
L 385.56 5.4 
" style="fill: none; stroke: #000000; stroke-width: 0.8; stroke-linejoin: miter; stroke-linecap: square"/>
   </g>
   <g id="patch_5">
    <path d="M 40.68 262.44 
L 385.56 262.44 
" style="fill: none; stroke: #000000; stroke-width: 0.8; stroke-linejoin: miter; stroke-linecap: square"/>
   </g>
   <g id="patch_6">
    <path d="M 40.68 5.4 
L 385.56 5.4 
" style="fill: none; stroke: #000000; stroke-width: 0.8; stroke-linejoin: miter; stroke-linecap: square"/>
   </g>
   <g id="legend_1">
    <g id="patch_7">
     <path d="M 152.630 257.688 L 378.874 257.688 Q 380.808 257.688 380.808 255.754 L 380.808 211.022 Q 380.808 209.088 378.874 209.088 L 152.630 209.088 Q 150.696 209.088 150.696 211.022 L 150.696 255.754 Q 150.696 257.688 152.630 257.688 z" style="fill: #ffffff; opacity: 0.8; stroke: #cccccc; stroke-linejoin: miter"/>
    </g>
    <g id="line2d_167" transform="translate(0.000 0.000)">
     <path d="M 154.656 217.440 L 174.240 217.440" style="fill: none; stroke: #1870b2; stroke-width: 1.5; stroke-linecap: square"/>
    </g>
    <g id="text_20" transform="translate(0.000 -0.720)">
     <!-- 1.0 $M_\odot$ -->
     <g transform="translate(182.0401 221.803982)">
      <text><tspan x="0" y="-0.578125" style="font-size: 9.67px; font-family: 'DejaVu Sans'">1</tspan><tspan x="6.123718" y="-0.578125" style="font-size: 9.67px; font-family: 'DejaVu Sans'">.</tspan><tspan x="9.183228" y="-0.578125" style="font-size: 9.67px; font-family: 'DejaVu Sans'">0</tspan><tspan x="15.306946" y="-0.578125" style="font-size: 9.67px; font-family: 'DejaVu Sans'"> </tspan><tspan x="18.366455" y="-0.578125" style="font-style: oblique; font-size: 9.67px; font-family: 'DejaVu Sans'">M</tspan><tspan x="27.983466" y="1.0625" style="font-size: 6.769px; font-family: 'DejaVu Sans'">⊙</tspan></text>
     </g>
    </g>
    <g id="line2d_168" transform="translate(0.000 0.000)">
     <path d="M 154.656 232.128 L 174.240 232.128" style="fill: none; stroke: #ff7305; stroke-width: 1.5; stroke-linecap: square"/>
    </g>
    <g id="text_21" transform="translate(0.000 -0.720)">
     <!-- 1.7 $M_\odot$, monochromatic opacities -->
     <g transform="translate(182.0401 236.71482)">
      <text><tspan x="0" y="-0.40625" style="font-size: 9.67px; font-family: 'DejaVu Sans'">1</tspan><tspan x="6.123718" y="-0.40625" style="font-size: 9.67px; font-family: 'DejaVu Sans'">.</tspan><tspan x="8.433228" y="-0.40625" style="font-size: 9.67px; font-family: 'DejaVu Sans'">7</tspan><tspan x="14.556946" y="-0.40625" style="font-size: 9.67px; font-family: 'DejaVu Sans'"> </tspan><tspan x="17.616455" y="-0.40625" style="font-style: oblique; font-size: 9.67px; font-family: 'DejaVu Sans'">M</tspan><tspan x="27.233466" y="1.234375" style="font-size: 6.769px; font-family: 'DejaVu Sans'">⊙</tspan><tspan x="34.464819" y="-0.40625" style="font-size: 9.67px; font-family: 'DejaVu Sans'">,</tspan><tspan x="37.524329" y="-0.40625" style="font-size: 9.67px; font-family: 'DejaVu Sans'"> </tspan><tspan x="40.583838" y="-0.40625" style="font-size: 9.67px; font-family: 'DejaVu Sans'">m</tspan><tspan x="49.959753" y="-0.40625" style="font-size: 9.67px; font-family: 'DejaVu Sans'">o</tspan><tspan x="55.848486" y="-0.40625" style="font-size: 9.67px; font-family: 'DejaVu Sans'">n</tspan><tspan x="61.948706" y="-0.40625" style="font-size: 9.67px; font-family: 'DejaVu Sans'">o</tspan><tspan x="67.837439" y="-0.40625" style="font-size: 9.67px; font-family: 'DejaVu Sans'">c</tspan><tspan x="73.129309" y="-0.40625" style="font-size: 9.67px; font-family: 'DejaVu Sans'">h</tspan><tspan x="79.229529" y="-0.40625" style="font-size: 9.67px; font-family: 'DejaVu Sans'">r</tspan><tspan x="83.186682" y="-0.40625" style="font-size: 9.67px; font-family: 'DejaVu Sans'">o</tspan><tspan x="89.075415" y="-0.40625" style="font-size: 9.67px; font-family: 'DejaVu Sans'">m</tspan><tspan x="98.451331" y="-0.40625" style="font-size: 9.67px; font-family: 'DejaVu Sans'">a</tspan><tspan x="104.349463" y="-0.40625" style="font-size: 9.67px; font-family: 'DejaVu Sans'">t</tspan><tspan x="108.123328" y="-0.40625" style="font-size: 9.67px; font-family: 'DejaVu Sans'">i</tspan><tspan x="110.797461" y="-0.40625" style="font-size: 9.67px; font-family: 'DejaVu Sans'">c</tspan><tspan x="116.089331" y="-0.40625" style="font-size: 9.67px; font-family: 'DejaVu Sans'"> </tspan><tspan x="119.14884" y="-0.40625" style="font-size: 9.67px; font-family: 'DejaVu Sans'">o</tspan><tspan x="125.037573" y="-0.40625" style="font-size: 9.67px; font-family: 'DejaVu Sans'">p</tspan><tspan x="131.147192" y="-0.40625" style="font-size: 9.67px; font-family: 'DejaVu Sans'">a</tspan><tspan x="137.045325" y="-0.40625" style="font-size: 9.67px; font-family: 'DejaVu Sans'">c</tspan><tspan x="142.337195" y="-0.40625" style="font-size: 9.67px; font-family: 'DejaVu Sans'">i</tspan><tspan x="145.011328" y="-0.40625" style="font-size: 9.67px; font-family: 'DejaVu Sans'">t</tspan><tspan x="148.785193" y="-0.40625" style="font-size: 9.67px; font-family: 'DejaVu Sans'">i</tspan><tspan x="151.459326" y="-0.40625" style="font-size: 9.67px; font-family: 'DejaVu Sans'">e</tspan><tspan x="157.380957" y="-0.40625" style="font-size: 9.67px; font-family: 'DejaVu Sans'">s</tspan></text>
     </g>
    </g>
    <g id="line2d_169" transform="translate(0.000 0.000)">
     <path d="M 154.656 247.464 L 174.240 247.464" style="fill: none; stroke-dasharray: 5.69,1.91; stroke-dashoffset: 0; stroke: #149614; stroke-width: 1.5"/>
    </g>
    <g id="text_22" transform="translate(0.000 -0.720)">
     <!-- 1.7 $M_\odot$, opacities at a fixed composition -->
     <g transform="translate(182.0401 251.6453)">
      <text><tspan x="0" y="-0.40625" style="font-size: 9.67px; font-family: 'DejaVu Sans'">1</tspan><tspan x="6.123718" y="-0.40625" style="font-size: 9.67px; font-family: 'DejaVu Sans'">.</tspan><tspan x="8.433228" y="-0.40625" style="font-size: 9.67px; font-family: 'DejaVu Sans'">7</tspan><tspan x="14.556946" y="-0.40625" style="font-size: 9.67px; font-family: 'DejaVu Sans'"> </tspan><tspan x="17.616455" y="-0.40625" style="font-style: oblique; font-size: 9.67px; font-family: 'DejaVu Sans'">M</tspan><tspan x="27.233466" y="1.234375" style="font-size: 6.769px; font-family: 'DejaVu Sans'">⊙</tspan><tspan x="34.464819" y="-0.40625" style="font-size: 9.67px; font-family: 'DejaVu Sans'">,</tspan><tspan x="37.524329" y="-0.40625" style="font-size: 9.67px; font-family: 'DejaVu Sans'"> </tspan><tspan x="40.583838" y="-0.40625" style="font-size: 9.67px; font-family: 'DejaVu Sans'">o</tspan><tspan x="46.472571" y="-0.40625" style="font-size: 9.67px; font-family: 'DejaVu Sans'">p</tspan><tspan x="52.58219" y="-0.40625" style="font-size: 9.67px; font-family: 'DejaVu Sans'">a</tspan><tspan x="58.480322" y="-0.40625" style="font-size: 9.67px; font-family: 'DejaVu Sans'">c</tspan><tspan x="63.772192" y="-0.40625" style="font-size: 9.67px; font-family: 'DejaVu Sans'">i</tspan><tspan x="66.446326" y="-0.40625" style="font-size: 9.67px; font-family: 'DejaVu Sans'">t</tspan><tspan x="70.22019" y="-0.40625" style="font-size: 9.67px; font-family: 'DejaVu Sans'">i</tspan><tspan x="72.894324" y="-0.40625" style="font-size: 9.67px; font-family: 'DejaVu Sans'">e</tspan><tspan x="78.815955" y="-0.40625" style="font-size: 9.67px; font-family: 'DejaVu Sans'">s</tspan><tspan x="83.830542" y="-0.40625" style="font-size: 9.67px; font-family: 'DejaVu Sans'"> </tspan><tspan x="86.890051" y="-0.40625" style="font-size: 9.67px; font-family: 'DejaVu Sans'">a</tspan><tspan x="92.788184" y="-0.40625" style="font-size: 9.67px; font-family: 'DejaVu Sans'">t</tspan><tspan x="96.562048" y="-0.40625" style="font-size: 9.67px; font-family: 'DejaVu Sans'"> </tspan><tspan x="99.621558" y="-0.40625" style="font-size: 9.67px; font-family: 'DejaVu Sans'">a</tspan><tspan x="105.51969" y="-0.40625" style="font-size: 9.67px; font-family: 'DejaVu Sans'"> </tspan><tspan x="108.579199" y="-0.40625" style="font-size: 9.67px; font-family: 'DejaVu Sans'">f</tspan><tspan x="111.967688" y="-0.40625" style="font-size: 9.67px; font-family: 'DejaVu Sans'">i</tspan><tspan x="114.641821" y="-0.40625" style="font-size: 9.67px; font-family: 'DejaVu Sans'">x</tspan><tspan x="120.337866" y="-0.40625" style="font-size: 9.67px; font-family: 'DejaVu Sans'">e</tspan><tspan x="126.259497" y="-0.40625" style="font-size: 9.67px; font-family: 'DejaVu Sans'">d</tspan><tspan x="132.369116" y="-0.40625" style="font-size: 9.67px; font-family: 'DejaVu Sans'"> </tspan><tspan x="135.428625" y="-0.40625" style="font-size: 9.67px; font-family: 'DejaVu Sans'">c</tspan><tspan x="140.720496" y="-0.40625" style="font-size: 9.67px; font-family: 'DejaVu Sans'">o</tspan><tspan x="146.609229" y="-0.40625" style="font-size: 9.67px; font-family: 'DejaVu Sans'">m</tspan><tspan x="155.985144" y="-0.40625" style="font-size: 9.67px; font-family: 'DejaVu Sans'">p</tspan><tspan x="162.094763" y="-0.40625" style="font-size: 9.67px; font-family: 'DejaVu Sans'">o</tspan><tspan x="167.983496" y="-0.40625" style="font-size: 9.67px; font-family: 'DejaVu Sans'">s</tspan><tspan x="172.998083" y="-0.40625" style="font-size: 9.67px; font-family: 'DejaVu Sans'">i</tspan><tspan x="175.672217" y="-0.40625" style="font-size: 9.67px; font-family: 'DejaVu Sans'">t</tspan><tspan x="179.446082" y="-0.40625" style="font-size: 9.67px; font-family: 'DejaVu Sans'">i</tspan><tspan x="182.120215" y="-0.40625" style="font-size: 9.67px; font-family: 'DejaVu Sans'">o</tspan><tspan x="188.008948" y="-0.40625" style="font-size: 9.67px; font-family: 'DejaVu Sans'">n</tspan></text>
     </g>
    </g>
   </g>
  </g>
 </g>
 <defs>
  <clipPath id="p5fa38661e6">
   <rect x="40.68" y="5.4" width="344.88" height="257.04"/>
  </clipPath>
 </defs>
</svg>

</body></html>
